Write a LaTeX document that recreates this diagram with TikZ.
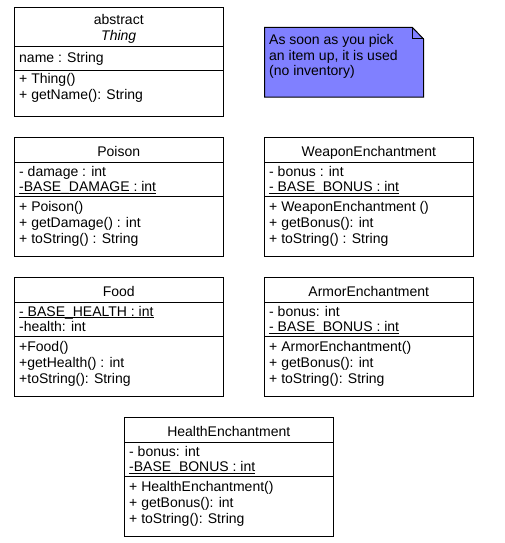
\documentclass[tikz,border=0pt]{standalone}
\usepackage{fontspec}
\setmainfont{Liberation Sans}
\definecolor{notefill}{RGB}{128,128,255}
\newcommand\uln[1]{\setbox0\hbox{#1}\rlap{\vrule width\wd0 height -1.1pt depth 2.1pt}\box0}
\tikzset{
  classbox/.style={draw=black, fill=white, line width=1pt, minimum width=208.5pt, inner sep=0pt, outer sep=0pt, anchor=north west},
  divline/.style={draw=black, line width=1pt},
  ttl/.style={anchor=base, inner sep=0pt, font=\fontsize{14}{16}\selectfont},
  txt/.style={anchor=base west, inner sep=0pt, font=\fontsize{14}{16}\selectfont},
  notebox/.style={draw=black, fill=notefill, line width=1pt, line join=miter},
}
% #1 id, #2 x, #3 y, #4 title, #5 #6 attributes, #7 #8 #9 methods
\newcommand\stdclass[9]{%
  \node[classbox, minimum height=119pt] (#1) at (#2,#3) {};
  \draw[divline] ([yshift=-25.2pt]#1.north west) -- ([yshift=-25.2pt]#1.north east);
  \draw[divline] ([yshift=-59.2pt]#1.north west) -- ([yshift=-59.2pt]#1.north east);
  \node[ttl] (#1-t) at ([yshift=-18.5pt]#1.north) {#4};
  \node[txt] (#1-a1) at ([xshift=4.5pt,yshift=-38.5pt]#1.north west) {#5};
  \node[txt] (#1-a2) at ([xshift=4.5pt,yshift=-54.2pt]#1.north west) {#6};
  \node[txt] (#1-m1) at ([xshift=4.5pt,yshift=-74.2pt]#1.north west) {#7};
  \node[txt] (#1-m2) at ([xshift=4.5pt,yshift=-90pt]#1.north west) {#8};
  \node[txt] (#1-m3) at ([xshift=4.5pt,yshift=-106pt]#1.north west) {#9};
}
\begin{document}
\begin{tikzpicture}[x=1pt,y=-1pt]
\useasboundingbox[fill=white] (0,0) rectangle (505,543);

% Thing
\node[classbox, minimum height=108.7pt] (thing) at (14.5,7.3) {};
\draw[divline] ([yshift=-39.7pt]thing.north west) -- ([yshift=-39.7pt]thing.north east);
\draw[divline] ([yshift=-62.7pt]thing.north west) -- ([yshift=-62.7pt]thing.north east);
\node[ttl] (thing-t1) at ([yshift=-17.7pt]thing.north) {abstract};
\node[ttl] (thing-t2) at ([yshift=-33.4pt]thing.north) {\itshape Thing};
\node[txt] (thing-a1) at ([xshift=4.5pt,yshift=-55.4pt]thing.north west) {name : String};
\node[txt] (thing-m1) at ([xshift=4.5pt,yshift=-75.7pt]thing.north west) {+ Thing()};
\node[txt] (thing-m2) at ([xshift=4.5pt,yshift=-91.7pt]thing.north west) {+ getName(): String};

% Note
\coordinate (n1) at (264.5,27.5);
\coordinate (n2) at (412.5,27.5);
\coordinate (n3) at (423.5,39);
\coordinate (n4) at (423.5,97);
\coordinate (n5) at (264.5,97);
\coordinate (n6) at (412.5,39);
\draw[notebox] (n1) -- (n2) -- (n3) -- (n4) -- (n5) -- cycle;
\draw[line width=1pt] (n2) -- (n6) -- (n3);
\node[txt] (note1) at (269,44.7) {As soon as you pick};
\node[txt] (note2) at (269,60) {an item up, it is used};
\node[txt] (note3) at (269,75.5) {(no inventory)};

\stdclass{poison}{14.5}{137.5}{Poison}{- damage : int}{\uln{-BASE\_DAMAGE : int}}{+ Poison()}{+ getDamage() : int}{+ toString() : String}
\stdclass{weapon}{264.5}{137.5}{WeaponEnchantment}{- bonus : int}{\uln{- BASE\_BONUS : int}}{+ WeaponEnchantment ()}{+ getBonus(): int}{+ toString() : String}
\stdclass{food}{14.5}{277.5}{Food}{\uln{- BASE\_HEALTH : int}}{-health: int}{+Food()}{+getHealth() : int}{+toString(): String}
\stdclass{armor}{264.5}{277.5}{ArmorEnchantment}{- bonus: int}{\uln{- BASE\_BONUS : int}}{+ ArmorEnchantment()}{+ getBonus(): int}{+ toString(): String}
\stdclass{health}{124.5}{417.5}{HealthEnchantment}{- bonus: int}{\uln{-BASE\_BONUS : int}}{+ HealthEnchantment()}{+ getBonus(): int}{+ toString(): String}
\end{tikzpicture}
\end{document}
